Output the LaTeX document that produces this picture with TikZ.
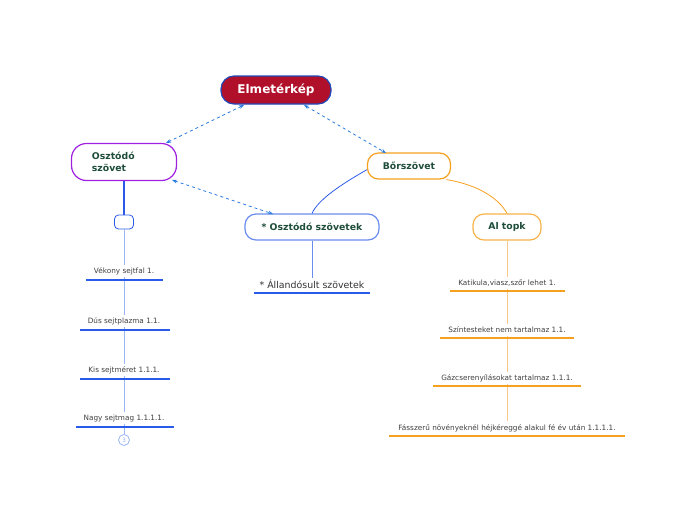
\documentclass[tikz,border=0pt]{standalone}
\usepackage{fontspec}
\setmainfont{DejaVu Sans}
\usetikzlibrary{arrows.meta}
\definecolor{dgreen}{HTML}{1E4D3A}
\definecolor{myblue}{HTML}{2A5BE8}
\definecolor{lblue}{HTML}{9AB6F5}
\definecolor{myorange}{HTML}{F5A01E}
\definecolor{lorange}{HTML}{F8C98A}
\definecolor{mypurple}{HTML}{A020E0}
\definecolor{dred}{HTML}{B0102A}
\definecolor{arrowblue}{HTML}{2A7BE0}
\tikzset{
  x=1pt,y=-1pt,
  topic/.style={draw,rounded corners=11pt,line width=1.2pt,fill=white,font=\bfseries\fontsize{9.3}{12}\selectfont,text=dgreen,inner sep=0pt},
  item/.style={font=\fontsize{7.3}{8}\selectfont,text=black!75,inner sep=1pt},
  uline/.style={line width=1.3pt},
  dasharrow/.style={dashed,arrowblue,line width=0.8pt,{Stealth[length=5pt]}-{Stealth[length=5pt]}}
}
\begin{document}
\begin{tikzpicture}
\useasboundingbox (0,0) rectangle (697,520);
% nodes
\node[topic,draw=myblue!80!black,fill=dred,text=white,font=\bfseries\fontsize{12}{14}\selectfont,minimum width=110pt,minimum height=28pt,rounded corners=13pt] (root) at (276,90) {Elmetérkép};
\node[topic,draw=mypurple,minimum width=105pt,minimum height=37pt,rounded corners=15pt,align=left] (osz) at (124,162) {Osztódó\\szövet\hspace*{30pt}};
\node[topic,draw=myorange,minimum width=83pt,minimum height=26pt] (bor) at (409,166) {Bőrszövet};
\node[topic,draw=myblue!70,minimum width=134pt,minimum height=26pt] (oszk) at (312,227) {* Osztódó szövetek};
\node[topic,draw=myorange!80,minimum width=68pt,minimum height=26pt] (al) at (507,227) {Al topk};
\node[draw=myblue,rounded corners=4pt,minimum width=19pt,minimum height=14pt,inner sep=0pt,line width=0.8pt] (sb) at (124,222) {};
% left branch
\draw[myblue,line width=1.3pt] (osz.south) -- (sb.north);
\coordinate (cend) at (124,434);
\draw[lblue,line width=0.8pt] (sb.south) -- (cend);
\node[draw=lblue,circle,fill=white,inner sep=0pt,minimum size=11pt,text=lblue,font=\fontsize{6}{7}\selectfont,line width=0.8pt] (c3) at (124,440) {3};
\foreach \t/\y/\a/\b [count=\i] in {Vékony sejtfal 1./271/86/163,Dús sejtplazma 1.1./321/80/170,Kis sejtméret 1.1.1./370/80/170,Nagy sejtmag 1.1.1.1./418/76/174}{
  \fill[white] (\a,\y-6) rectangle (\b,\y+6);
  \node[item] (l\i) at (124,\y) {\t};
  \draw[myblue,uline] (\a,\y+9) -- (\b,\y+9);
}
% middle
\node[font=\fontsize{9.4}{11}\selectfont,text=black!80,inner sep=1pt] (all) at (312,284) {* Állandósult szövetek};
\draw[myblue!70,line width=0.8pt] (oszk.south) -- (all.north);
\draw[myblue,uline] (254,293) -- (370,293);
% right branch
\coordinate (rend) at (507,421);
\draw[lorange,line width=0.8pt] (al.south) -- (rend);
\foreach \t/\y/\a/\b [count=\i] in {{Katikula,viasz,szőr lehet 1.}/283/450/565,Színtesteket nem tartalmaz 1.1./330/440/574,Gázcserenyílásokat tartalmaz 1.1.1./378/433/581,Fásszerű növényeknél héjkéreggé alakul fé év után 1.1.1.1./428/389/625}{
  \fill[white] (\a,\y-6) rectangle (\b,\y+6);
  \node[item] (r\i) at (507,\y) {\t};
  \draw[myorange,uline] (\a,\y+8) -- (\b,\y+8);
}
% curves
\draw[myblue,line width=0.8pt] (bor.185) .. controls (340,185) and (318,200) .. (oszk.north);
\draw[myorange,line width=0.8pt] (bor.-20) .. controls (480,185) and (500,200) .. (al.north);
% dashed arrows
\draw[dasharrow] (244,105) -- (166,143);
\draw[dasharrow] (304,105) -- (386,153);
\draw[dasharrow] (172,180) -- (273,214);
\end{tikzpicture}
\end{document}
